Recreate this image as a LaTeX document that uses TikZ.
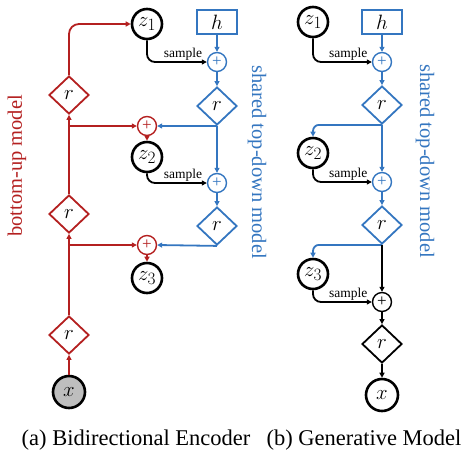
\documentclass[tikz,border=0pt]{standalone}
\usepackage{fontspec}
\setmainfont{Liberation Serif}
\usetikzlibrary{arrows.meta,shapes.geometric}
\DeclareMathSizes{22}{22}{18}{14}
\definecolor{myred}{RGB}{180,32,32}
\definecolor{myblue}{RGB}{52,118,192}
\definecolor{mygray}{RGB}{190,190,190}
\begin{document}
\begin{tikzpicture}[x=1pt,y=-1pt,
  zc/.style={circle,draw=black,line width=2.6pt,minimum size=30pt,inner sep=0pt,font=\fontsize{22}{24}\selectfont},
  pc/.style={circle,draw,line width=1.4pt,minimum size=19pt,inner sep=0pt,font=\fontsize{17}{17}\selectfont},
  dia/.style={diamond,draw,line width=1.8pt,minimum width=40pt,minimum height=38pt,inner sep=0pt,font=\fontsize{22}{24}\selectfont},
  hb/.style={rectangle,draw,line width=1.8pt,minimum width=40pt,minimum height=24pt,inner sep=0pt,font=\fontsize{22}{24}\selectfont},
  ar/.style={line width=1.8pt,-{Triangle[length=5pt,width=5pt]}},
  smp/.style={font=\fontsize{13.5}{13.5}\selectfont,above=0pt,inner sep=1pt,text=black},
  lab/.style={font=\fontsize{20.5}{20.5}\selectfont},
  captxt/.style={font=\fontsize{22.5}{22.5}\selectfont}
]
\useasboundingbox (0,0) rectangle (474,467);

% ---------- (a) Bidirectional Encoder ----------
\node[zc,fill=mygray,minimum size=32pt] (xa) at (69,392) {$x$};
\node[dia,draw=myred] (ra1) at (69,335) {$r$};
\node[dia,draw=myred] (ra2) at (69,214) {$r$};
\node[dia,draw=myred] (ra3) at (69,95) {$r$};

\node[zc] (z1a) at (147,24) {$z_1$};
\node[pc,draw=myred,text=myred] (pa1) at (147,126) {+};
\node[zc] (z2a) at (147,157) {$z_2$};
\node[pc,draw=myred,text=myred] (pa2) at (147,245) {+};
\node[zc] (z3a) at (147,278) {$z_3$};

\node[hb,draw=myblue] (ha) at (217,22) {$h$};
\node[pc,draw=myblue,text=myblue] (qa1) at (217,62) {+};
\node[dia,draw=myblue] (da1) at (217,106) {$r$};
\node[pc,draw=myblue,text=myblue] (qa2) at (217,183) {+};
\node[dia,draw=myblue] (da2) at (217,226) {$r$};

% red bottom-up
\draw[ar,myred] (xa) -- (ra1.south);
\draw[ar,myred] (ra1.north) -- (ra2.south);
\draw[ar,myred] (ra2.north) -- (ra3.south);
\draw[ar,myred,rounded corners=10pt] (ra3.north) |- (z1a.west);
\draw[ar,myred] (ra3.south |- pa1) -- (pa1.west);
\draw[ar,myred] (ra2.south |- pa2) -- (pa2.west);
\draw[ar,myred] (pa1) -- (z2a.north);
\draw[ar,myred] (pa2) -- (z3a.north);

% blue top-down
\draw[ar,myblue] (ha) -- (qa1);
\draw[ar,myblue] (qa1) -- (da1.north);
\draw[ar,myblue] (da1.south) -- (qa2);
\draw[ar,myblue] (qa2) -- (da2.north);
\draw[ar,myblue] (da1.south |- pa1) -- (pa1.east);
\draw[ar,myblue] (da2.south) -- (pa2.east);

% samples
\draw[ar,black,rounded corners=8pt] (z1a.south) |- node[smp,pos=0.8]{sample} (qa1.west);
\draw[ar,black,rounded corners=8pt] (z2a.south) |- node[smp,pos=0.8]{sample} (qa2.west);

\node[lab,text=myred,rotate=90] (la) at (17,166) {bottom-up model};
\node[lab,text=myblue,rotate=-90] (lb) at (257,162) {shared top-down model};

% ---------- (b) Generative Model ----------
\node[zc] (z1b) at (313,22) {$z_1$};
\node[hb,draw=myblue] (hbb) at (382,22) {$h$};
\node[pc,draw=myblue,text=myblue] (qb1) at (382,62) {+};
\node[dia,draw=myblue] (db1) at (382,105) {$r$};
\node[zc] (z2b) at (313,153) {$z_2$};
\node[pc,draw=myblue,text=myblue] (qb2) at (382,182) {+};
\node[dia,draw=myblue] (db2) at (382,225) {$r$};
\node[zc] (z3b) at (313,274) {$z_3$};
\node[pc,draw=black] (qb3) at (382,302) {+};
\node[dia,draw=black] (db3) at (382,344) {$r$};
\node[zc,minimum size=32pt] (xb) at (382,395) {$x$};

\draw[ar,myblue] (hbb) -- (qb1);
\draw[ar,myblue] (qb1) -- (db1.north);
\draw[ar,myblue] (db1.south) -- (qb2);
\draw[ar,myblue] (qb2) -- (db2.north);
\draw[ar,myblue,rounded corners=6pt] (db1.south) -| (z2b.north);
\draw[ar,myblue,rounded corners=6pt] (db2.south) -| (z3b.north);
\draw[ar,black] (db2.south) -- (qb3);
\draw[ar,black] (qb3) -- (db3.north);
\draw[ar,black] (db3.south) -- (xb);

\draw[ar,black,rounded corners=8pt] (z1b.south) |- node[smp,pos=0.8]{sample} (qb1.west);
\draw[ar,black,rounded corners=8pt] (z2b.south) |- node[smp,pos=0.8]{sample} (qb2.west);
\draw[ar,black,rounded corners=8pt] (z3b.south) |- node[smp,pos=0.8]{sample} (qb3.west);

\node[lab,text=myblue,rotate=-90] (lc) at (425,161) {shared top-down model};

% captions
\node[captxt] (capa) at (136,440) {(a) Bidirectional Encoder};
\node[captxt] (capb) at (364,440) {(b) Generative Model};
\end{tikzpicture}
\end{document}
